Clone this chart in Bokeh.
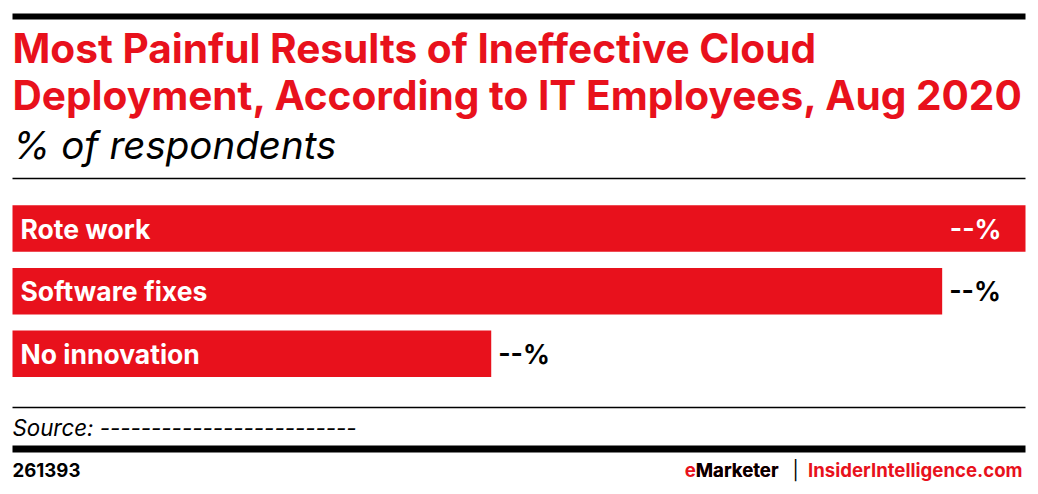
from bokeh.plotting import figure
from bokeh.models import Range1d, ColumnDataSource
from bokeh.core.properties import value
from bokeh.embed import file_html
from bokeh.resources import INLINE

# chart data
categories = ["Rote work", "Software fixes", "No innovation"]
shares = [62.0, 56.9, 29.3]          # bar lengths
share_labels = ["--%", "--%", "--%"]  # values are hidden in the original
label_inside = [True, False, False]

title_lines = ["Most Painful Results of Ineffective Cloud",
               "Deployment, According to IT Employees, Aug 2020"]
subtitle = "% of respondents"
source_note = "Source: -------------------------"
chart_id = "261393"

RED = "#e8111c"
W, H = 1038, 494
FONT = "Inter"
SHIFT = 0.37  # bokeh's alphabetic baseline lands this many em lower

# pixel-space figure, y grows downwards
p = figure(width=W, height=H, output_backend="svg", toolbar_location=None,
           x_range=Range1d(0, W), y_range=Range1d(H, 0),
           min_border=0, outline_line_color=None)
p.axis.visible = False
p.grid.visible = False
p.background_fill_color = "white"

# data ranges for the bars: 0 % sits at x=12, rows are 62.65px apart
px_per_pct = 1013 / 62.0
x0 = -12 / px_per_pct
p.extra_x_ranges = {"pct": Range1d(x0, x0 + W / px_per_pct)}
row_h = 62.65
p.extra_y_ranges = {"rows": Range1d((H - 228) / row_h, -228 / row_h)}

rows = list(range(len(categories)))
src = ColumnDataSource(data=dict(row=rows, share=shares, cat=categories))

p.hbar(y="row", left=0, right="share", height=46.5 / row_h, source=src,
       color=RED, line_color=None, x_range_name="pct", y_range_name="rows")


def txt(x, y, s, size, style="bold", color="black", align="left"):
    p.text(x=[x], y=[y - SHIFT * size], text=[s], text_color=color,
           text_font=value(FONT), text_font_style=style,
           text_font_size=f"{size}px", text_align=align,
           text_baseline="alphabetic")


LAB = 26.5
lab_dy = 10 - SHIFT * LAB

# category names inside the bars
p.text(x=20, y="row", text="cat", source=src, y_range_name="rows",
       text_color="white", text_font=value(FONT), text_font_style="bold",
       text_font_size=f"{LAB}px", text_baseline="alphabetic", y_offset=lab_dy)


def pick(seq, inside):
    return [v for v, f in zip(seq, label_inside) if f == inside]


# value labels
ins = ColumnDataSource(data=dict(row=pick(rows, True), share=pick(shares, True),
                                 lab=pick(share_labels, True)))
out = ColumnDataSource(data=dict(row=pick(rows, False), share=pick(shares, False),
                                 lab=pick(share_labels, False)))
p.text(x="share", y="row", text="lab", source=ins, x_range_name="pct", y_range_name="rows",
       text_color="white", text_font=value(FONT), text_font_style="bold",
       text_font_size=f"{LAB}px", text_align="right", text_baseline="alphabetic",
       x_offset=-24, y_offset=lab_dy)
p.text(x="share", y="row", text="lab", source=out, x_range_name="pct", y_range_name="rows",
       text_color="black", text_font=value(FONT), text_font_style="bold",
       text_font_size=f"{LAB}px", text_align="left", text_baseline="alphabetic",
       x_offset=7, y_offset=lab_dy)

# rules
p.segment(x0=12, x1=1025, y0=16, y1=16, line_color="black", line_width=6)
p.segment(x0=12, x1=1025, y0=178, y1=178, line_color="black", line_width=1.5)
p.segment(x0=12, x1=1025, y0=407, y1=407, line_color="black", line_width=1.5)
p.segment(x0=12, x1=1025, y0=448.5, y1=448.5, line_color="black", line_width=7)

# titles
txt(12, 62.7, title_lines[0], 40.6, color=RED)
txt(12, 110, title_lines[1], 40.6, color=RED)
txt(12, 159, subtitle, 38.5, style="italic")

# footer
txt(12, 435, source_note, 22.3, style="italic")
txt(12, 476, chart_id, 18.6)
txt(1022, 476, "InsiderIntelligence.com", 18.6, color=RED, align="right")
txt(795, 476, "|", 18.6, style="normal", align="center")
txt(778, 476, "eMarketer", 18.6, color=RED, align="right")
txt(778, 476, "Marketer", 18.6, align="right")

open("out.html", "w").write(file_html(p, INLINE))
